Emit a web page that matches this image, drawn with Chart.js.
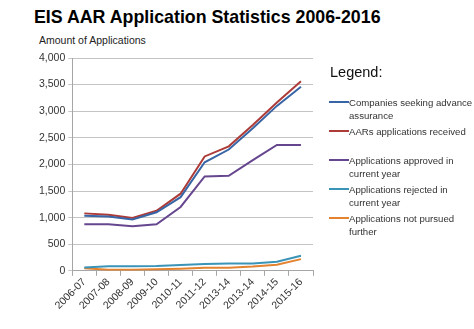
<!DOCTYPE html>
<html>
<head>
<meta charset="utf-8">
<script src="https://cdn.jsdelivr.net/npm/chart.js@4/dist/chart.umd.min.js"></script>
<style>
    body { margin: 0; background: #fff; font-family: "Liberation Sans", Arial, sans-serif; }
    #wrap { position: relative; width: 474px; height: 329px; overflow: hidden; }
    #title { position: absolute; left: 34px; top: 7px; font-size: 17.8px; font-weight: bold; color: #000; white-space: nowrap; }
    #yname { position: absolute; left: 39px; top: 34px; font-size: 10.5px; color: #222; white-space: nowrap; }
    #chartbox { position: absolute; left: 0; top: 0; width: 474px; height: 329px; }
    #legend { position: absolute; left: 329px; top: 64px; width: 145px; }
    #legend h3 { margin: 0 0 16px 1px; font-size: 14.5px; font-weight: normal; color: #111; }
    .item { position: relative; height: 29px; }
    .item .swatch { position: absolute; left: 0; top: 5px; width: 20px; height: 2px; }
    .item .txt { position: absolute; left: 20px; top: 0; width: 124px; font-size: 9.6px; line-height: 13px; color: #333; }
</style>
</head>
<body>
<div id="wrap">
    <div id="title">EIS AAR Application Statistics 2006-2016</div>
    <div id="yname">Amount of Applications</div>
    <div id="chartbox"><canvas id="myChart"></canvas></div>
    <div id="legend"><h3>Legend:</h3></div>
</div>
<script>
// x axis labels (the picture repeats 2013-14)
var years = ["2006-07", "2007-08", "2008-09", "2009-10", "2010-11", "2011-12", "2013-14", "2013-14", "2014-15", "2015-16"];

// series values
var companiesSeeking = [1035, 1020, 965, 1100, 1385, 2040, 2280, 2680, 3100, 3460];
var aarsReceived = [1080, 1055, 995, 1130, 1450, 2150, 2340, 2740, 3165, 3565];
var approved = [875, 875, 840, 875, 1200, 1775, 1785, 2080, 2365, 2365];
var rejected = [62, 88, 88, 90, 110, 130, 140, 140, 172, 282];
var notPursued = [50, 22, 22, 32, 40, 58, 60, 80, 115, 220];

var seriesNames = [
    "Companies seeking advance assurance",
    "AARs applications received",
    "Applications approved in current year",
    "Applications rejected in current year",
    "Applications not pursued further"
];
var seriesColors = ["#3865a6", "#ad3b38", "#66478f", "#3a94b8", "#e3832f"];
var seriesData = [companiesSeeking, aarsReceived, approved, rejected, notPursued];

var yTicks = [0, 500, 1000, 1500, 2000, 2500, 3000, 3500, 4000];

// build datasets from the arrays above
var datasets = [];
for (let i = 0; i < seriesData.length; i++) {
    datasets.push({
        label: seriesNames[i],
        data: seriesData[i],
        borderColor: seriesColors[i],
        backgroundColor: seriesColors[i],
        borderWidth: 2,
        pointRadius: 0,
        tension: 0,
        fill: false
    });
}

// html legend with wrapped labels
var legendHtml = "";
for (let i = 0; i < seriesNames.length; i++) {
    legendHtml += "<div class=\"item\"><div class=\"swatch\" style=\"background:" + seriesColors[i] + "\"></div>" +
                  "<div class=\"txt\">" + seriesNames[i] + "</div></div>";
}
document.getElementById("legend").innerHTML += legendHtml;

var ctx = document.getElementById('myChart').getContext('2d');
var chart = new Chart(ctx, {
    type: 'line',
    data: {
        labels: years,
        datasets: datasets
    },
    options: {
        responsive: true,
        maintainAspectRatio: false,
        animation: false,
        layout: {
            padding: { left: 36, right: 161, top: 58, bottom: 17 }
        },
        plugins: {
            legend: { display: false },
            tooltip: { enabled: false }
        },
        scales: {
            x: {
                offset: true,
                grid: {
                    offset: true,
                    drawOnChartArea: false,
                    color: "#a6a6a6",
                    tickLength: 5
                },
                border: { color: "#a6a6a6" },
                ticks: {
                    autoSkip: false,
                    maxRotation: 45,
                    minRotation: 45,
                    padding: 0,
                    color: "#333",
                    font: { family: "Liberation Sans", size: 10.5 }
                }
            },
            y: {
                min: 0,
                max: 4000,
                afterBuildTicks: function (axis) {
                    axis.ticks = yTicks.map(function (v) { return { value: v }; });
                },
                grid: {
                    color: "#c4c4c4",
                    tickLength: 4,
                    lineWidth: 1
                },
                border: { color: "#a6a6a6" },
                ticks: {
                    padding: 3,
                    color: "#333",
                    font: { family: "Liberation Sans", size: 10.5 },
                    callback: function (v) { return v.toLocaleString("en-US"); }
                }
            }
        }
    }
});
</script>
</body>
</html>
